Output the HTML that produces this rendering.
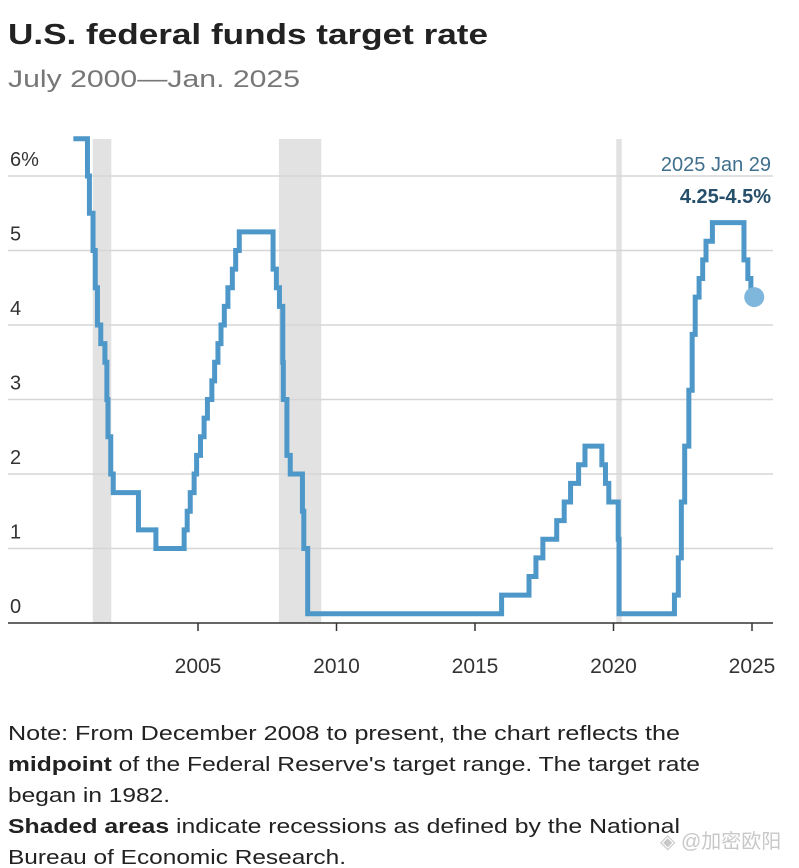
<!DOCTYPE html>
<html><head><meta charset="utf-8"><style>
html,body{margin:0;padding:0;background:#fff;}
svg{display:block;font-family:"Liberation Sans","Noto Sans CJK SC",sans-serif;}
</style></head><body>
<svg id="chart" width="799" height="868" viewBox="0 0 799 868">
<text x="8" y="44" font-size="29" font-weight="bold" fill="#222" textLength="480" lengthAdjust="spacingAndGlyphs">U.S. federal funds target rate</text>
<text x="8" y="87" font-size="24" fill="#777" textLength="292" lengthAdjust="spacingAndGlyphs">July 2000—Jan. 2025</text>
<g id="recessions"></g>
<g id="grid"></g>
<g id="xaxis"></g>
<g id="series"></g>
<text x="771" y="171" font-size="20" fill="#3f6f8c" text-anchor="end">2025 Jan 29</text>
<text x="771" y="203" font-size="20" font-weight="bold" fill="#254f6a" text-anchor="end">4.25-4.5%</text>
<g font-size="20.5" fill="#222">
<text x="8" y="740" textLength="672" lengthAdjust="spacingAndGlyphs">Note: From December 2008 to present, the chart reflects the</text>
<text x="8" y="771" textLength="692" lengthAdjust="spacingAndGlyphs"><tspan font-weight="bold">midpoint</tspan> of the Federal Reserve's target range. The target rate</text>
<text x="8" y="802" textLength="162" lengthAdjust="spacingAndGlyphs">began in 1982.</text>
<text x="8" y="833" textLength="672" lengthAdjust="spacingAndGlyphs"><tspan font-weight="bold">Shaded areas</tspan> indicate recessions as defined by the National</text>
<text x="8" y="864" textLength="338" lengthAdjust="spacingAndGlyphs">Bureau of Economic Research.</text>
</g>
<text x="660" y="848" font-size="20" fill="#c8c8c8">◈ @加密欧阳</text>
</svg>
<script>
const dates=[2000.5,2001.01,2001.08,2001.21,2001.29,2001.37,2001.49,2001.64,2001.71,2001.75,2001.85,2001.94,2002.85,2003.48,2004.5,2004.61,2004.72,2004.86,2004.95,2005.09,2005.22,2005.34,2005.5,2005.6,2005.72,2005.83,2005.95,2006.08,2006.24,2006.36,2006.49,2007.71,2007.83,2007.94,2008.06,2008.08,2008.21,2008.33,2008.77,2008.82,2008.96,2015.96,2016.95,2017.2,2017.45,2017.95,2018.22,2018.45,2018.74,2018.97,2019.58,2019.71,2019.83,2020.17,2020.2,2022.2,2022.34,2022.45,2022.57,2022.72,2022.84,2022.95,2023.09,2023.22,2023.34,2023.57,2024.71,2024.85,2024.96,2025.08];
const rates=[6.5,6.0,5.5,5.0,4.5,4.0,3.75,3.5,3.0,2.5,2.0,1.75,1.25,1.0,1.25,1.5,1.75,2.0,2.25,2.5,2.75,3.0,3.25,3.5,3.75,4.0,4.25,4.5,4.75,5.0,5.25,4.75,4.5,4.25,3.5,3.0,2.25,2.0,1.5,1.0,0.125,0.375,0.625,0.875,1.125,1.375,1.625,1.875,2.125,2.375,2.125,1.875,1.625,1.125,0.125,0.375,0.875,1.625,2.375,3.125,3.875,4.375,4.625,4.875,5.125,5.375,4.875,4.625,4.375,4.375];
const recStart=[2001.2,2007.92,2020.1];
const recEnd=[2001.87,2009.45,2020.3];
const yTicks=[0,1,2,3,4,5,6];
const yLabels=["0","1","2","3","4","5","6%"];
const xTicks=[2005,2010,2015,2020,2025];
const xLabels=["2005","2010","2015","2020","2025"];
const NS="http://www.w3.org/2000/svg";
const X=v=>198+(v-2005)*27.7;
const Y=v=>623-v*74.5;
function mk(tag,attrs,parent){const e=document.createElementNS(NS,tag);for(const k in attrs)e.setAttribute(k,attrs[k]);document.getElementById(parent).appendChild(e);return e;}
recStart.forEach((s,i)=>{
  const r=mk('rect',{x:X(s),y:139,width:Math.max(3,X(recEnd[i])-X(s)),height:484,fill:'#e2e2e2'},'recessions');
  
  
});
yTicks.forEach((t,i)=>{
  if(t>0){const l=mk('line',{x1:8,x2:773,y1:Y(t),y2:Y(t),stroke:'#d6d6d6','stroke-width':1.5},'grid');
  
  }
  const tx=mk('text',{x:10,y:Y(t)-10,'font-size':20,fill:'#333'},'grid');
  tx.textContent=yLabels[i];
  
  
});
const ax=mk('line',{x1:8,x2:773,y1:623,y2:623,stroke:'#333','stroke-width':1.5},'xaxis');


xTicks.forEach((t,i)=>{
  const tk=mk('line',{x1:X(t),x2:X(t),y1:623,y2:631,stroke:'#333','stroke-width':1.5},'xaxis');
  
  
  const tx=mk('text',{x:X(t),y:673,'font-size':21,fill:'#333','text-anchor':'middle'},'xaxis');
  tx.textContent=xLabels[i];
  
  
});
let d='M'+X(dates[0])+' '+Y(rates[0]);
for(let i=1;i<dates.length;i++){d+=' H'+X(dates[i])+' V'+Y(rates[i]);}
const p=mk('path',{d:d,fill:'none',stroke:'#4d97c9','stroke-width':5,'stroke-linejoin':'miter'},'series');


const n=dates.length-1;
const c=mk('circle',{cx:X(dates[n]),cy:Y(rates[n]),r:10,fill:'#7fb6dc'},'series');


</script>
</body></html>
